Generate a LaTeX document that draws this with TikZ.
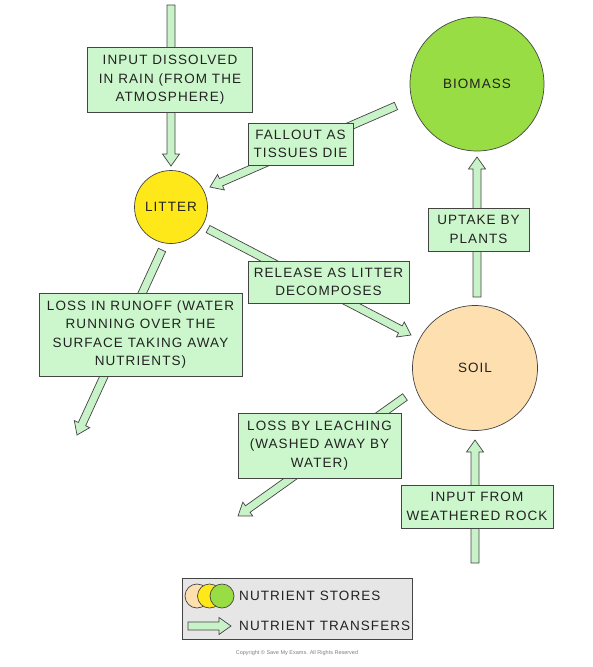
\documentclass[tikz,border=0pt]{standalone}
\usepackage{fontspec}
\setmainfont{Liberation Sans}[LetterSpace=8]
\newfontfamily\cpfont{Liberation Sans}
\usetikzlibrary{calc}
\definecolor{boxg}{HTML}{CCF7CC}
\definecolor{arrg}{HTML}{C8F2C8}
\definecolor{edgec}{HTML}{444444}
\definecolor{litterc}{HTML}{FFE81A}
\definecolor{biomassc}{HTML}{99DD44}
\definecolor{soilc}{HTML}{FEE0B0}
\definecolor{legbg}{HTML}{E6E6E6}
\definecolor{txt}{HTML}{222222}
\tikzset{
  transfer/.style={fill=arrg, draw=edgec, line width=0.7pt, line join=miter},
  lbl/.style={rectangle, fill=boxg, draw=edgec, line width=0.7pt, align=center,
     text=txt, inner sep=0pt, font=\fontsize{13.5}{18.5}\selectfont},
  store/.style={circle, draw=edgec, line width=0.7pt, inner sep=0pt, text=txt,
     font=\fontsize{13.5}{18.5}\selectfont},
}
\newcommand\fatarrow[2]{%
  \coordinate (neck) at ($(#2)!12pt!(#1)$);
  \filldraw[transfer] ($(#1)!4pt!90:(#2)$) -- ($(neck)!4pt!90:(#2)$) --
    ($(neck)!8.5pt!90:(#2)$) -- (#2) -- ($(neck)!8.5pt!-90:(#2)$) --
    ($(neck)!4pt!-90:(#2)$) -- ($(#1)!4pt!-90:(#2)$) -- cycle;}
\begin{document}
\begin{tikzpicture}[x=1pt,y=-1pt]
\useasboundingbox (0,0) rectangle (593,667);
\fill[white] (0,0) rectangle (593,667);
% stores
\node[store, fill=litterc, minimum size=73] (litter) at (171,207) {LITTER};
\node[store, fill=biomassc, minimum size=134] (biomass) at (477,84) {BIOMASS};
\node[store, fill=soilc, minimum size=125] (soil) at (475,368) {SOIL};
% arrow end points
\coordinate (a1) at (171,5);   \coordinate (b1) at (171,166);
\coordinate (a2) at (396,106); \coordinate (b2) at (210,187);
\coordinate (a3) at (208,229); \coordinate (b3) at (411,335);
\coordinate (a4) at (162,250); \coordinate (b4) at (77,435);
\coordinate (a5) at (405,397); \coordinate (b5) at (238,516);
\coordinate (a6) at (475,563); \coordinate (b6) at (475,440);
\coordinate (a7) at (477,297); \coordinate (b7) at (477,157);
\fatarrow{a1}{b1}
\fatarrow{a2}{b2}
\fatarrow{a3}{b3}
\fatarrow{a4}{b4}
\fatarrow{a5}{b5}
\fatarrow{a6}{b6}
\fatarrow{a7}{b7}
% labels
\node[lbl, minimum width=165, minimum height=65] (rain) at (170,80)
  {INPUT DISSOLVED\\IN RAIN (FROM THE\\ATMOSPHERE)};
\node[lbl, minimum width=105, minimum height=42] (fall) at (300.5,144)
  {FALLOUT AS\\TISSUES DIE};
\node[lbl, minimum width=161, minimum height=42] (rel) at (328.5,282)
  {RELEASE AS LITTER\\DECOMPOSES};
\node[lbl, minimum width=203, minimum height=83] (run) at (140.5,334.5)
  {LOSS IN RUNOFF (WATER\\RUNNING OVER THE\\SURFACE TAKING AWAY\\NUTRIENTS)};
\node[lbl, minimum width=163, minimum height=65] (leach) at (319.5,445.5)
  {LOSS BY LEACHING\\(WASHED AWAY BY\\WATER)};
\node[lbl, minimum width=152, minimum height=43] (rock) at (477,506.5)
  {INPUT FROM\\WEATHERED ROCK};
\node[lbl, minimum width=101, minimum height=43] (up) at (478.5,229.5)
  {UPTAKE BY\\PLANTS};
% legend
\node[rectangle, fill=legbg, draw=edgec, line width=0.7pt, minimum width=230,
  minimum height=61, inner sep=0pt] (legend) at (297,608.5) {};
\node[store, fill=soilc, minimum size=24] (l1) at (197,596) {};
\node[store, fill=litterc, minimum size=24] (l2) at (209.5,596) {};
\node[store, fill=biomassc, minimum size=24] (l3) at (222,596) {};
\node[anchor=west, text=txt, font=\fontsize{13.5}{16}\selectfont, inner sep=0pt]
  (t1) at (239,596) {NUTRIENT STORES};
\coordinate (a8) at (188,626); \coordinate (b8) at (231,626);
\fatarrow{a8}{b8}
\node[anchor=west, text=txt, font=\fontsize{13.5}{16}\selectfont, inner sep=0pt]
  (t2) at (239,626) {NUTRIENT TRANSFERS};
\node[text=gray, font=\cpfont\fontsize{5.5}{6}\selectfont, inner sep=0pt]
  (copy) at (297,653) {Copyright © Save My Exams. All Rights Reserved};
\end{tikzpicture}
\end{document}
